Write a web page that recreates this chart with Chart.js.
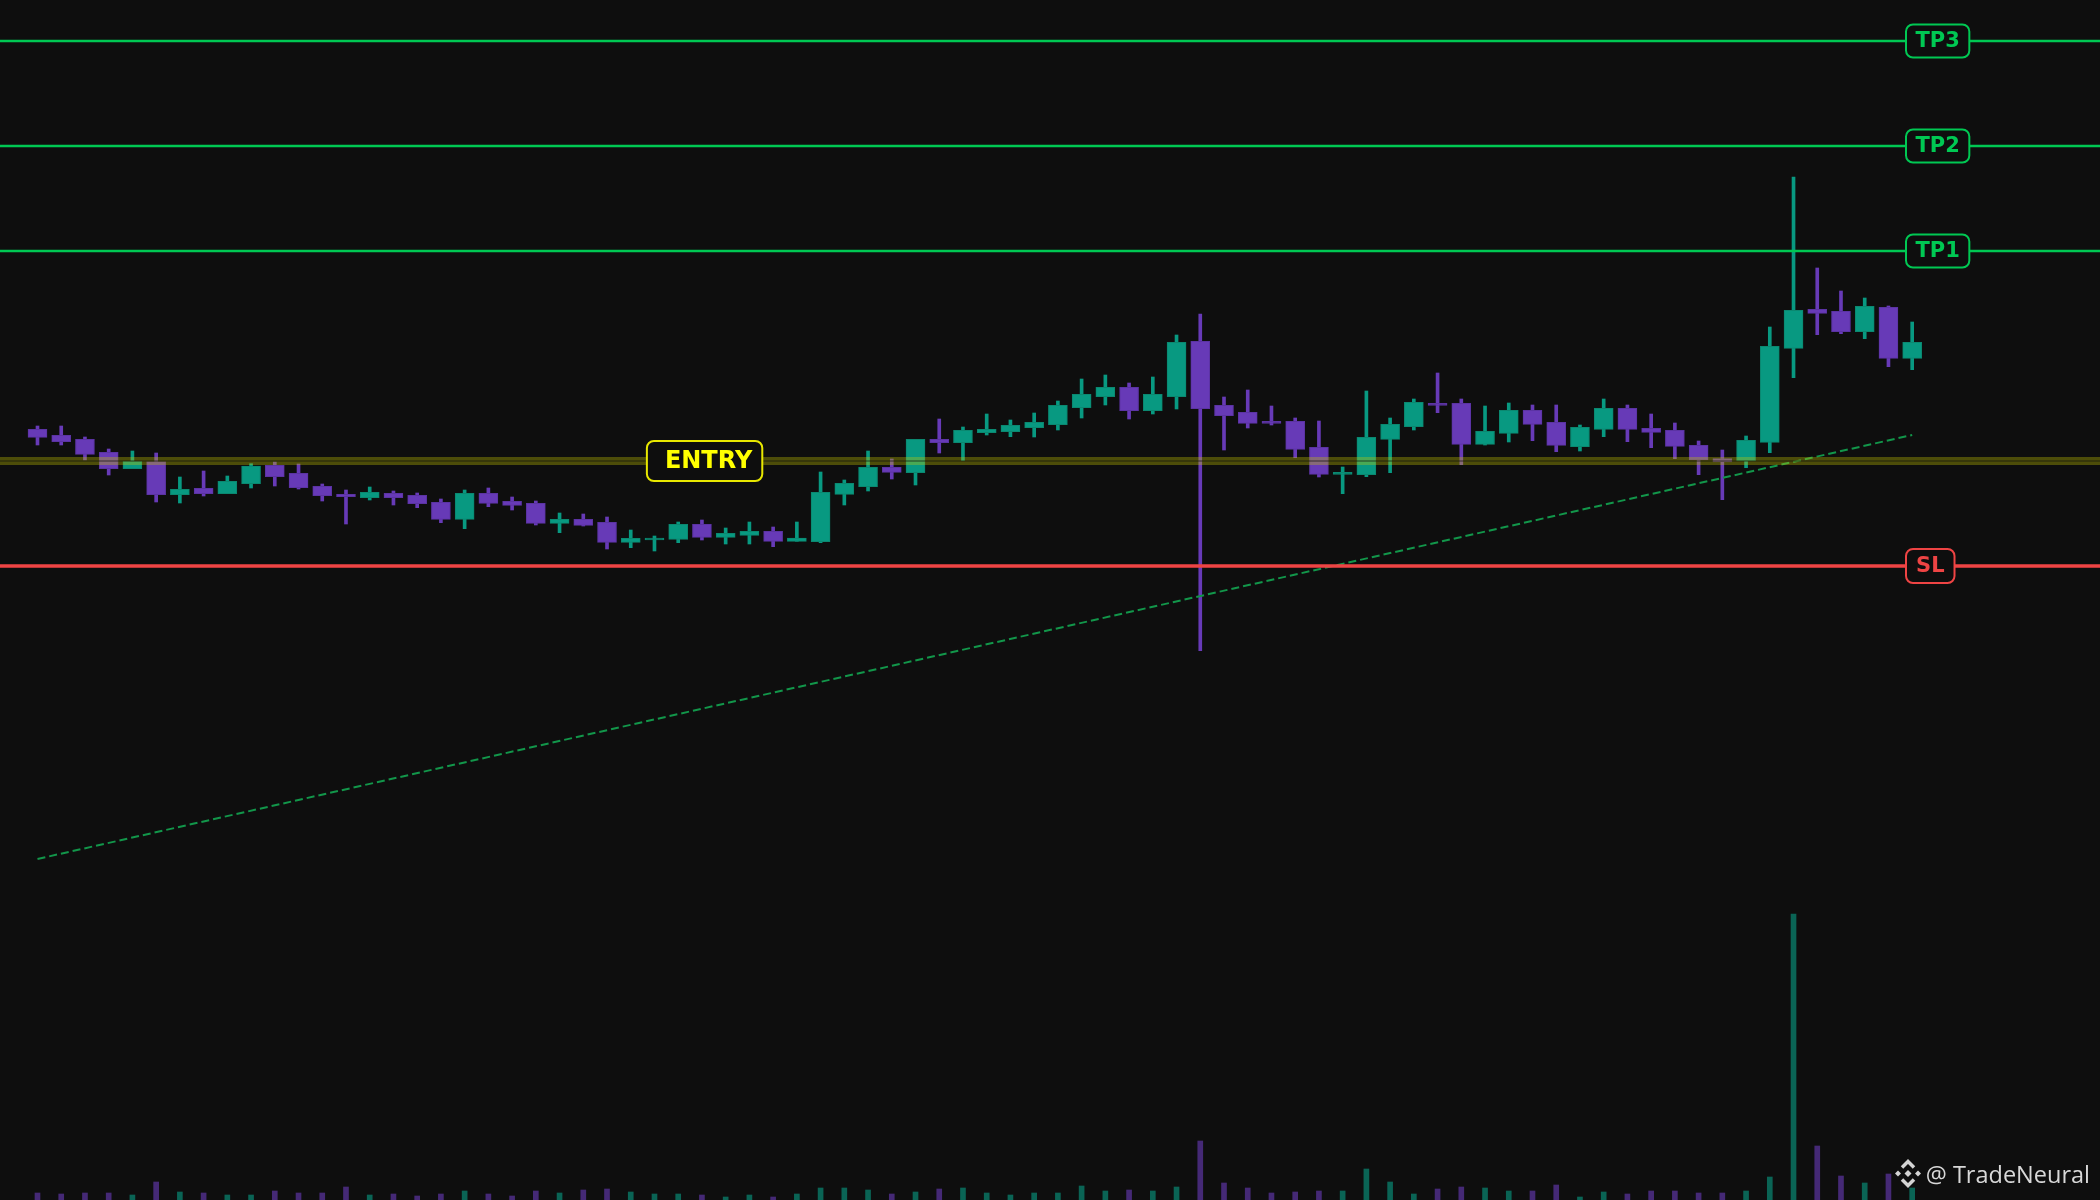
<!DOCTYPE html>
<html>
<head>
<meta charset="utf-8">
<title>Trade setup</title>
<script src="https://cdn.jsdelivr.net/npm/chart.js@4.4.1/dist/chart.umd.min.js"></script>
<style>
  html, body { margin: 0; padding: 0; background: #0e0e0e; overflow: hidden; }
  #chart { display: block; }
</style>
</head>
<body>
<canvas id="chart" width="2100" height="1200" style="width:2100px;height:1200px"></canvas>
<script>
// Candle data
const opens = [
  1.00317, 1.00257, 1.00217, 1.00087, 0.99923, 0.99993, 0.99663, 0.99727, 0.99673, 0.99773,
  0.99957, 0.99877, 0.99747, 0.99667, 0.99633, 0.99677, 0.99657, 0.99587, 0.99417, 0.99677,
  0.99597, 0.99577, 0.99377, 0.99417, 0.99387, 0.99187, 0.99210, 0.99217, 0.99367, 0.99237,
  0.99257, 0.99297, 0.99197, 0.99193, 0.99667, 0.99743, 0.99937, 0.99883, 1.00217, 1.00183,
  1.00283, 1.00293, 1.00333, 1.00363, 1.00533, 1.00643, 1.00737, 1.00503, 1.00643, 1.01197,
  1.00557, 1.00487, 1.00397, 1.00397, 1.00137, 0.99867, 0.99863, 1.00217, 1.00343, 1.00577,
  1.00577, 1.00167, 1.00277, 1.00507, 1.00387, 1.00143, 1.00317, 1.00527, 1.00327, 1.00307,
  1.00157, 1.00023, 1.00000, 1.00187, 1.01127, 1.01517, 1.01497, 1.01293, 1.01537, 1.01027
];
const highs = [
  1.00350, 1.00350, 1.00240, 1.00120, 1.00100, 1.00080, 0.99840, 0.99900, 0.99850, 0.99973,
  0.99990, 0.99970, 0.99770, 0.99710, 0.99740, 0.99700, 0.99680, 0.99620, 0.99710, 0.99730,
  0.99640, 0.99600, 0.99480, 0.99470, 0.99440, 0.99310, 0.99250, 0.99390, 0.99410, 0.99330,
  0.99390, 0.99340, 0.99390, 0.99890, 0.99810, 1.00100, 1.00020, 1.00217, 1.00420, 1.00340,
  1.00470, 1.00410, 1.00480, 1.00600, 1.00820, 1.00860, 1.00780, 1.00840, 1.01260, 1.01470,
  1.00640, 1.00710, 1.00550, 1.00430, 1.00400, 0.99940, 1.00700, 1.00430, 1.00620, 1.00880,
  1.00620, 1.00550, 1.00580, 1.00560, 1.00560, 1.00360, 1.00620, 1.00560, 1.00470, 1.00380,
  1.00200, 1.00110, 1.00250, 1.01340, 1.02840, 1.01930, 1.01700, 1.01630, 1.01550, 1.01390
];
const lows = [
  1.00160, 1.00160, 1.00010, 0.99860, 0.99923, 0.99590, 0.99580, 0.99650, 0.99673, 0.99730,
  0.99750, 0.99720, 0.99600, 0.99370, 0.99610, 0.99560, 0.99533, 0.99383, 0.99323, 0.99543,
  0.99510, 0.99360, 0.99283, 0.99350, 0.99120, 0.99133, 0.99100, 0.99183, 0.99210, 0.99170,
  0.99170, 0.99143, 0.99197, 0.99183, 0.99560, 0.99700, 0.99820, 0.99760, 1.00080, 1.00003,
  1.00260, 1.00243, 1.00240, 1.00310, 1.00430, 1.00560, 1.00420, 1.00470, 1.00520, 0.98103,
  1.00110, 1.00330, 1.00360, 1.00033, 0.99840, 0.99673, 0.99843, 0.99883, 1.00310, 1.00483,
  0.99963, 1.00160, 1.00190, 1.00203, 1.00093, 1.00100, 1.00243, 1.00193, 1.00133, 1.00023,
  0.99863, 0.99613, 0.99933, 1.00083, 1.00833, 1.01263, 1.01273, 1.01223, 1.00943, 1.00913
];
const closes = [
  1.00237, 1.00193, 1.00067, 0.99923, 0.99997, 0.99663, 0.99717, 0.99673, 0.99797, 0.99950,
  0.99843, 0.99733, 0.99653, 0.99643, 0.99687, 0.99633, 0.99573, 0.99417, 0.99677, 0.99577,
  0.99557, 0.99377, 0.99417, 0.99357, 0.99187, 0.99227, 0.99230, 0.99367, 0.99237, 0.99277,
  0.99297, 0.99197, 0.99230, 0.99687, 0.99777, 0.99937, 0.99887, 1.00217, 1.00183, 1.00307,
  1.00317, 1.00357, 1.00387, 1.00557, 1.00667, 1.00737, 1.00503, 1.00667, 1.01187, 1.00523,
  1.00453, 1.00377, 1.00377, 1.00117, 0.99867, 0.99887, 1.00237, 1.00367, 1.00587, 1.00557,
  1.00167, 1.00297, 1.00507, 1.00367, 1.00157, 1.00337, 1.00527, 1.00317, 1.00287, 1.00147,
  1.00010, 0.99990, 1.00207, 1.01147, 1.01507, 1.01477, 1.01293, 1.01547, 1.01027, 1.01187
];
// Volume (K)
const volumes = [
  7, 6, 7, 7, 5, 18, 8, 7, 5, 5,
  9, 7, 7, 13, 5, 6, 4, 6, 9, 6,
  4, 9, 7, 10, 11, 8, 6, 6, 5, 3,
  5, 3, 6, 12, 12, 10, 6, 8, 11, 12,
  7, 5, 7, 7, 14, 9, 10, 9, 13, 59,
  17, 12, 7, 8, 9, 9, 31, 18, 6, 11,
  13, 12, 9, 9, 15, 3, 8, 6, 9, 9,
  7, 7, 9, 23, 286, 54, 24, 17, 26, 12
];

// Trade levels
const entryPrice = 1.0000;
const slPrice = 0.9895;
const tp1Price = 1.0210;
const tp2Price = 1.0315;
const tp3Price = 1.0420;

// Dashed support line (first candle -> last candle)
const trendStart = 0.96020;
const trendEnd = 1.00260;

const UP = '#089981';
const DOWN = '#673ab7';
const UP_BORDER = '#0b8870';
const DOWN_BORDER = '#5b33a3';
const TP_COLOR = '#00c853';
const SL_COLOR = '#ef4444';
const ENTRY_COLOR = '#ffff00';

const X_MIN = -1.58;
const X_MAX = 86.915;

const idx = opens.map((_, i) => i);
const isUp = idx.map(i => closes[i] >= opens[i]);

function levelLine(price) {
  return [{ x: X_MIN, y: price }, { x: X_MAX, y: price }];
}

// Labels for the levels + watermark
const overlayPlugin = {
  id: 'overlay',
  beforeDraw(chart) {
    const ctx = chart.ctx;
    ctx.save();
    ctx.fillStyle = '#0e0e0e';
    ctx.fillRect(0, 0, chart.width, chart.height);
    ctx.restore();
  },
  afterDatasetsDraw(chart) {
    const ctx = chart.ctx;
    const xs = chart.scales.x;
    const ys = chart.scales.y;

    function tag(text, price, color, xVal, opts) {
      ctx.save();
      ctx.font = 'bold ' + opts.size + 'px "DejaVu Sans"';
      const tw = ctx.measureText(text).width;
      const left = xs.getPixelForValue(xVal);
      const cy = ys.getPixelForValue(price);
      const w = tw + opts.padL + opts.padR;
      const h = opts.h;
      ctx.beginPath();
      ctx.roundRect(left, cy - h / 2, w, h, 7);
      ctx.fillStyle = '#0e0e0e';
      ctx.fill();
      ctx.lineWidth = 2;
      ctx.strokeStyle = opts.border || color;
      ctx.stroke();
      ctx.fillStyle = color;
      ctx.textBaseline = 'middle';
      ctx.textAlign = 'left';
      ctx.fillText(text, left + opts.padL, cy + 1);
      ctx.restore();
    }

    const tpOpts = { size: 21, padL: 9.5, padR: 9.5, h: 33 };
    tag('TP3', tp3Price, TP_COLOR, 78.74, tpOpts);
    tag('TP2', tp2Price, TP_COLOR, 78.74, tpOpts);
    tag('TP1', tp1Price, TP_COLOR, 78.74, tpOpts);
    tag('SL', slPrice, SL_COLOR, 78.74, { size: 21, padL: 10, padR: 10, h: 34 });
    tag('ENTRY', entryPrice, ENTRY_COLOR, 25.68, { size: 24, padL: 18, padR: 10, h: 40, border: '#e8e800' });
  },
  afterDraw(chart) {
    const ctx = chart.ctx;
    ctx.save();
    // small diamond logo
    const cx = 1908, cy = 1173.5;
    ctx.fillStyle = '#d4d4d4';
    function diamond(x, y, r) {
      ctx.beginPath();
      ctx.moveTo(x, y - r);
      ctx.lineTo(x + r, y);
      ctx.lineTo(x, y + r);
      ctx.lineTo(x - r, y);
      ctx.closePath();
      ctx.fill();
    }
    diamond(cx, cy, 3.5);
    diamond(cx - 10, cy, 3);
    diamond(cx + 10, cy, 3);
    ctx.lineWidth = 3.5;
    ctx.strokeStyle = '#d4d4d4';
    ctx.beginPath();
    ctx.moveTo(cx - 6, cy - 6);
    ctx.lineTo(cx, cy - 12);
    ctx.lineTo(cx + 6, cy - 6);
    ctx.moveTo(cx - 6, cy + 6);
    ctx.lineTo(cx, cy + 12);
    ctx.lineTo(cx + 6, cy + 6);
    ctx.stroke();

    ctx.font = '23.5px "Open Sans"';
    ctx.fillStyle = '#d8d8d8';
    ctx.textAlign = 'right';
    ctx.textBaseline = 'alphabetic';
    ctx.fillText('@ TradeNeural', 2090, 1183);
    ctx.restore();
  }
};

const barBase = {
  type: 'bar',
  grouped: false,
  borderSkipped: false,
};

new Chart(document.getElementById('chart'), {
  type: 'bar',
  data: {
    datasets: [
      {
        ...barBase,
        label: 'Volume',
        yAxisID: 'yv',
        data: idx.map(i => ({ x: i, y: volumes[i] })),
        backgroundColor: idx.map(i => isUp[i] ? 'rgba(8,153,129,0.62)' : 'rgba(103,58,183,0.62)'),
        barThickness: 5,
        borderWidth: 0,
        order: 5
      },
      {
        ...barBase,
        label: 'Wicks',
        yAxisID: 'y',
        data: idx.map(i => ({ x: i, y: [lows[i], highs[i]] })),
        backgroundColor: idx.map(i => isUp[i] ? UP : DOWN),
        barThickness: 3,
        borderWidth: 0,
        order: 4
      },
      {
        ...barBase,
        label: 'Bodies',
        yAxisID: 'y',
        data: idx.map(i => ({ x: i, y: [opens[i], closes[i]] })),
        backgroundColor: idx.map(i => isUp[i] ? UP : DOWN),
        borderColor: idx.map(i => isUp[i] ? UP_BORDER : DOWN_BORDER),
        borderWidth: 1,
        barThickness: 19,
        order: 3
      },
      {
        type: 'line',
        label: 'Support',
        yAxisID: 'y',
        data: [{ x: 0, y: trendStart }, { x: idx.length - 1, y: trendEnd }],
        borderColor: '#12964a',
        borderWidth: 2,
        borderDash: [8, 4],
        pointRadius: 0,
        order: 2
      },
      {
        type: 'line',
        label: 'Entry band',
        yAxisID: 'y',
        data: levelLine(entryPrice),
        borderColor: 'rgba(200,200,0,0.34)',
        borderWidth: 8,
        pointRadius: 0,
        order: 1
      },
      {
        type: 'line',
        label: 'Entry mid',
        yAxisID: 'y',
        data: levelLine(entryPrice),
        borderColor: 'rgba(14,14,14,0.35)',
        borderWidth: 2,
        pointRadius: 0,
        order: 0
      },
      {
        type: 'line',
        label: 'SL',
        yAxisID: 'y',
        data: levelLine(slPrice),
        borderColor: SL_COLOR,
        borderWidth: 3.5,
        pointRadius: 0,
        order: 1
      },
      {
        type: 'line',
        label: 'TP1',
        yAxisID: 'y',
        data: levelLine(tp1Price),
        borderColor: TP_COLOR,
        borderWidth: 2.5,
        pointRadius: 0,
        order: 1
      },
      {
        type: 'line',
        label: 'TP2',
        yAxisID: 'y',
        data: levelLine(tp2Price),
        borderColor: TP_COLOR,
        borderWidth: 2.5,
        pointRadius: 0,
        order: 1
      },
      {
        type: 'line',
        label: 'TP3',
        yAxisID: 'y',
        data: levelLine(tp3Price),
        borderColor: TP_COLOR,
        borderWidth: 2.5,
        pointRadius: 0,
        order: 1
      }
    ]
  },
  options: {
    responsive: false,
    devicePixelRatio: 1,
    animation: false,
    layout: { padding: 0 },
    scales: {
      x: { type: 'linear', min: X_MIN, max: X_MAX, offset: false, display: false },
      y: { type: 'linear', min: 0.9261, max: 1.0461, display: false },
      yv: { type: 'linear', min: 0, max: 1200, display: false }
    },
    plugins: {
      legend: { display: false },
      tooltip: { enabled: false }
    }
  },
  plugins: [overlayPlugin]
});
</script>
</body>
</html>
